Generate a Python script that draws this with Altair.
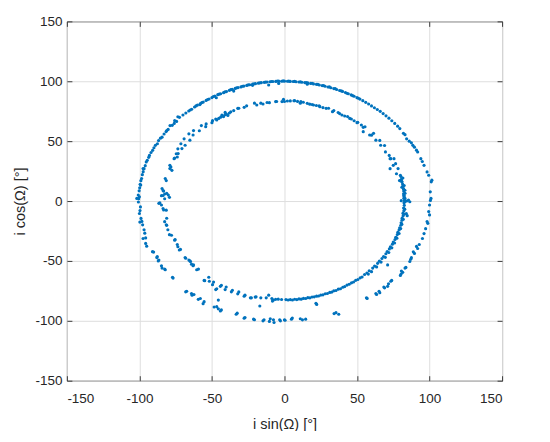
import altair as alt
import pandas as pd

# ---- data (degrees) ----
outer_top = [
    (-70.0, 71.8), (-68.0, 73.5), (-66.0, 75.2), (-65.0, 76.0), (-64.0, 76.6), (-62.0, 78.5), (-61.0, 79.4),
    (-60.0, 80.1), (-58.0, 81.3), (-57.0, 82.2), (-56.0, 82.6), (-54.0, 84.0), (-53.0, 84.8), (-52.0, 85.2),
    (-50.0, 86.4), (-49.0, 87.3), (-48.0, 87.6), (-46.0, 88.8), (-45.0, 89.2), (-44.0, 89.6), (-42.0, 90.5),
    (-41.0, 91.2), (-40.0, 91.4), (-38.0, 92.4), (-37.0, 93.0), (-36.0, 93.2), (-34.0, 94.0), (-33.0, 94.5),
    (-32.0, 94.7), (-30.0, 95.3), (-29.0, 95.8), (-28.0, 96.0), (-26.0, 96.5), (-25.0, 97.0), (-24.0, 97.1),
    (-22.0, 97.6), (-21.0, 97.9), (-20.0, 98.0), (-18.0, 98.4), (-17.0, 98.7), (-16.0, 98.8), (-14.0, 99.1),
    (-13.0, 99.3), (-12.0, 99.4), (-10.0, 99.6), (-9.0, 99.8), (-8.0, 99.8), (-6.0, 99.9), (-5.0, 100.2),
    (-4.0, 100.1), (-2.0, 100.0), (-1.0, 100.3), (0.0, 100.1), (2.0, 100.0), (3.0, 100.1), (4.0, 99.9),
    (6.0, 99.8), (7.0, 99.9), (8.0, 99.6), (10.0, 99.4), (11.0, 99.5), (12.0, 99.2), (14.0, 98.9),
    (15.0, 99.0), (16.0, 98.6), (18.0, 98.2), (19.0, 98.3), (20.0, 97.8), (22.0, 97.4), (23.0, 97.4),
    (24.0, 96.9), (26.0, 96.4), (27.0, 96.4), (28.0, 95.8), (30.0, 95.2), (31.0, 95.3), (32.0, 94.6),
    (34.0, 93.9), (35.0, 93.8), (36.0, 93.1), (38.0, 92.3), (39.0, 92.0), (40.0, 91.5), (42.0, 90.6),
    (43.0, 90.0), (44.0, 89.6), (46.0, 88.6), (47.0, 88.0), (48.0, 87.5), (50.0, 86.3), (51.0, 85.8),
    (52.0, 85.1), (54.0, 83.8), (56.0, 82.4), (58.0, 81.0), (60.0, 79.4), (62.0, 77.9), (64.0, 76.4),
    (66.0, 74.9), (68.0, 73.0), (70.0, 71.1), (72.0, 69.2), (74.0, 67.0), (76.0, 64.8),
    (-22.0, 96.6), (-10.9, 96.9), (-4.0, 98.2), (15.7, 97.6), (-58.3, 80.5), (-47.0, 86.2), (-35.0, 91.8),
]

outer_left = [
    (-101.8, 2.2), (-100.5, 2.0), (-100.0, 3.6), (-100.8, 5.0), (-100.2, 8.5), (-99.8, 11.0), (-99.1, 13.3),
    (-99.5, 14.0), (-99.0, 17.0), (-98.5, 18.8), (-98.0, 22.0), (-97.4, 24.5), (-97.5, 27.1), (-96.8, 27.0),
    (-96.0, 29.5), (-95.3, 32.6), (-94.6, 34.0), (-93.6, 36.5), (-93.1, 38.1), (-92.0, 40.5), (-90.9, 42.3),
    (-90.0, 44.5), (-89.0, 46.5), (-87.6, 47.8), (-86.8, 50.5), (-85.5, 52.5), (-84.4, 53.3), (-83.0, 56.0),
    (-81.6, 58.0), (-81.1, 58.8), (-80.2, 59.8), (-78.9, 63.0), (-77.4, 63.2), (-76.0, 64.8), (-75.7, 67.1),
    (-74.4, 66.5), (-72.4, 69.9), (-73.5, 70.4),
]

outer_right = [
    (78.0, 62.5), (79.5, 60.5), (82.0, 56.5), (83.1, 55.4), (84.2, 51.9), (86.0, 50.0), (87.5, 48.6),
    (88.5, 46.5), (89.6, 45.0), (91.0, 42.5), (91.8, 40.9), (94.0, 35.4), (95.0, 33.0), (96.2, 29.8),
    (98.3, 24.3), (99.4, 21.5), (101.6, 17.4), (101.2, 16.0), (100.5, 7.7), (101.0, 2.2), (100.6, 0.5),
    (100.0, -3.3), (99.4, -8.8), (100.0, -11.6), (98.3, -17.1), (98.8, -18.6), (97.3, -23.1), (96.2, -27.2),
    (95.1, -31.3), (92.9, -36.3), (91.8, -39.6), (91.0, -37.9), (89.6, -43.7), (88.8, -42.4), (87.5, -47.3),
    (87.0, -48.6), (86.4, -50.5), (83.7, -55.4), (83.1, -56.0), (81.5, -59.5), (80.6, -58.4), (80.4, -60.9),
    (79.9, -62.1), (73.9, -66.3), (73.3, -67.0), (71.7, -69.1), (71.1, -71.2), (69.0, -72.5), (68.5, -71.8),
    (65.7, -76.6), (65.2, -75.3), (63.5, -78.0), (63.0, -77.3), (57.0, -81.3), (56.5, -80.8),
]

outer_bottom = [
    (37.4, -94.5), (34.2, -94.0), (35.5, -93.2), (14.6, -98.6), (12.4, -99.2), (10.9, -98.3), (5.4, -97.7),
    (4.8, -98.6), (0.4, -99.5), (0.0, -99.1), (-2.8, -100.0), (-3.3, -99.1), (-7.2, -101.4), (-7.6, -99.1),
    (-10.4, -100.5), (-9.8, -98.3), (-14.8, -100.0), (-14.1, -99.1), (-20.7, -99.1), (-21.3, -98.6),
    (-27.2, -97.2), (-27.8, -97.8), (-32.6, -93.6), (-33.3, -94.5), (-43.5, -90.9), (-44.2, -91.8),
    (-45.6, -90.0), (-46.7, -88.2), (-48.5, -88.5), (-55.4, -84.0), (-56.1, -85.7), (-58.0, -81.4),
    (-59.4, -82.1), (-62.4, -78.0), (-63.7, -78.6), (-64.1, -77.3), (-67.4, -75.3), (-68.1, -75.8),
    (-76.8, -64.3), (-77.2, -63.6), (-82.2, -57.4), (-82.6, -56.8), (-84.4, -56.0), (-84.8, -54.0),
    (-86.6, -49.2), (-87.0, -50.0), (-87.7, -46.4), (-88.0, -47.2), (-90.2, -42.6), (-91.0, -42.3),
    (-95.0, -37.7), (-95.7, -35.4), (-95.7, -30.8), (-96.3, -26.8), (-97.5, -31.3), (-96.8, -24.0),
    (-97.8, -19.9), (-98.3, -17.0), (-98.9, -14.5), (-99.7, -17.6), (-100.0, -10.4), (-99.6, -8.0),
    (-99.3, -4.9), (-100.7, -0.8),
]

inner_top = [
    (-45.3, 69.0), (-44.0, 70.0), (-43.1, 71.8), (-43.0, 71.0), (-42.0, 70.5), (-41.0, 72.0), (-40.9, 74.0),
    (-40.0, 72.5), (-39.0, 71.5), (-38.0, 73.5), (-37.0, 74.5), (-35.0, 75.5), (-32.2, 77.4), (-31.5, 77.5),
    (-27.8, 78.2), (-26.1, 79.5), (-20.7, 81.7), (-19.1, 80.2), (-16.3, 81.7), (-14.8, 81.0), (-12.0, 82.3),
    (-10.4, 82.1), (-6.1, 83.0), (-5.4, 83.1), (-1.7, 83.0), (-0.7, 84.9), (0.0, 83.1), (2.0, 83.5),
    (4.0, 83.6), (6.5, 83.7), (7.0, 83.8), (9.0, 83.2), (10.9, 81.7), (11.3, 83.0), (13.0, 82.5),
    (15.7, 81.6), (17.4, 80.9), (19.0, 80.6), (20.0, 80.2), (22.0, 79.8), (23.9, 79.5), (24.4, 78.8),
    (26.5, 78.0), (28.7, 77.4), (30.4, 77.5), (33.1, 74.6), (34.0, 75.5), (37.0, 73.9), (38.0, 73.0),
    (39.6, 71.8), (41.5, 71.0), (43.5, 70.5), (45.0, 69.0), (46.1, 68.5), (48.0, 67.0), (50.0, 65.4),
    (50.5, 65.7), (53.0, 63.5), (54.3, 61.5), (55.5, 62.0), (54.3, 57.9), (58.7, 55.1), (60.0, 55.0),
    (61.4, 56.5), (63.0, 50.8), (65.7, 50.6), (66.3, 46.6), (69.0, 46.4), (69.6, 41.0), (72.2, 38.1),
    (72.8, 35.4), (73.3, 35.4), (75.5, 35.4), (75.0, 29.8), (76.6, 31.2), (72.8, 27.0), (77.2, 22.8),
    (78.3, 27.1), (79.3, 17.1), (79.9, 21.5), (80.9, 11.5), (81.0, 16.0), (82.0, 10.5), (82.2, 4.5),
    (83.1, 6.4), (83.1, 2.2), (84.2, 0.0), (86.4, -0.6), (85.5, 0.8), (80.5, 0.3),
]

inner_left = [
    (-47.4, 68.5), (-49.6, 67.1), (-46.7, 67.7), (-50.0, 65.4), (-54.0, 64.4), (-54.3, 62.1), (-57.3, 63.0),
    (-58.7, 58.7), (-62.7, 58.8), (-63.0, 55.1), (-65.9, 56.1), (-65.2, 50.8), (-69.2, 51.9), (-68.5, 46.6),
    (-71.4, 47.8), (-70.7, 43.8), (-73.5, 43.6), (-73.3, 39.6), (-74.6, 39.5), (-73.9, 36.8), (-76.1, 35.4),
    (-75.7, 35.9), (-79.0, 29.8), (-78.3, 28.4), (-79.0, 27.1), (-77.6, 25.6), (-82.2, 18.8), (-81.5, 17.1),
    (-84.4, 10.5), (-83.7, 8.7), (-83.3, 8.3), (-81.2, 6.4), (-82.6, 5.9), (-80.1, 5.0), (-84.8, 4.5),
    (-83.7, 4.6), (-79.3, 3.1), (-82.6, 1.9), (-85.9, -1.6), (-86.6, -1.9), (-84.8, -3.3), (-83.7, -6.3),
    (-81.5, -7.6), (-83.3, -7.5), (-81.2, -14.4), (-82.6, -17.2), (-81.5, -19.9), (-81.2, -20.3),
    (-80.4, -24.0), (-79.3, -28.1), (-77.9, -28.6), (-75.7, -32.7), (-75.4, -32.2), (-73.9, -36.3),
    (-73.5, -38.2), (-72.5, -40.9), (-71.7, -40.4), (-68.5, -47.2), (-68.1, -47.8), (-65.9, -49.2),
    (-65.2, -50.0), (-64.8, -50.5), (-64.1, -52.7), (-63.0, -54.0), (-62.7, -53.3), (-60.5, -57.4),
    (-59.3, -56.8),
]

inner_bottom = [
    (-55.4, -66.3), (-55.0, -66.5), (-52.2, -63.6), (-51.8, -67.0), (-49.6, -69.8), (-48.9, -67.7),
    (-47.4, -73.9), (-46.7, -73.2), (-45.6, -82.7), (-44.2, -71.2), (-43.5, -70.4), (-40.9, -73.9),
    (-40.2, -71.8), (-36.6, -75.8), (-35.9, -74.5), (-32.2, -77.5), (-31.5, -75.9), (-27.8, -79.4),
    (-27.2, -78.6), (-23.5, -80.8), (-22.8, -80.8), (-20.2, -80.2), (-19.6, -80.0), (-17.0, -87.6),
    (-16.3, -80.8), (-12.6, -80.8), (-10.9, -78.6), (-8.3, -83.5), (-7.6, -82.7), (-6.1, -82.1),
    (-4.3, -81.9), (-8.7, -81.4), (22.2, -86.3), (21.7, -85.4), (71.1, -53.3), (84.0, -10.5), (84.6, -12.2),
]

inner_right = [
    (80.3, 20.5), (80.6, 18.2), (80.8, 16.4), (81.4, 14.2), (81.5, 12.3), (82.0, 10.1), (82.2, 8.3),
    (82.1, 6.0), (82.6, 4.2), (82.3, 2.4), (82.7, 0.5), (82.4, -1.5), (82.6, -3.6), (82.1, -5.8),
    (82.3, -8.2), (81.7, -10.1), (81.8, -12.2), (81.1, -14.3), (81.0, -16.0), (80.4, -18.1), (80.2, -20.2),
    (79.4, -22.3), (79.0, -24.1), (78.1, -26.2), (77.8, -28.0), (76.7, -30.3), (76.2, -32.1), (75.0, -34.2),
    (74.4, -36.0), (73.0, -38.3), (72.3, -40.0), (70.8, -42.2), (69.9, -44.0), (68.3, -46.3), (67.2, -48.0),
    (65.4, -50.2), (64.2, -52.0), (62.1, -54.3), (60.8, -56.0), (58.4, -58.2), (56.8, -60.1), (55.2, -61.3),
    (52.2, -64.1), (49.1, -66.2), (46.2, -68.3), (43.1, -70.2), (40.2, -72.0), (37.1, -73.6), (34.0, -75.0),
    (31.2, -76.3), (28.1, -77.4), (25.0, -78.5), (22.1, -79.4), (19.0, -80.1), (16.1, -80.7), (13.1, -81.3),
    (10.0, -81.7), (7.0, -82.0), (4.0, -82.3), (1.0, -82.3), (-2.0, -82.2),
    (81.6, 19.2), (82.5, 13.0), (83.0, 9.0), (83.0, -0.5), (82.9, -6.8), (82.5, -11.0), (81.9, -15.2),
    (80.9, -19.3), (80.1, -23.0), (79.0, -27.1), (77.5, -31.0), (75.9, -35.0), (74.0, -39.1), (71.9, -43.0),
    (69.5, -47.0), (66.6, -51.0), (63.5, -55.0), (60.0, -59.0), (57.8, -61.0), (53.5, -63.4), (50.6, -65.5),
    (47.6, -67.6), (44.6, -69.5), (41.5, -71.4), (38.6, -73.2), (35.5, -74.7), (32.6, -76.0), (29.6, -77.2),
    (26.5, -78.3), (23.5, -79.3), (20.5, -80.0), (17.5, -80.8), (14.6, -81.4), (11.5, -81.9), (8.5, -82.3),
    (5.5, -82.6), (2.5, -82.6),
]

tick_values = [-150, -100, -50, 0, 50, 100, 150]
x_title = "i sin(\u03a9) [\u00b0]"
y_title = "i cos(\u03a9) [\u00b0]"

segments = [outer_top, outer_left, outer_right, outer_bottom,
            inner_top, inner_left, inner_bottom, inner_right]
df = pd.DataFrame({
    "x": [p[0] for s in segments for p in s],
    "y": [p[1] for s in segments for p in s],
})

FONT = "Liberation Sans"
TXT = "#262626"
FRAME = "#3c3c3c"
xs = alt.Scale(domain=[-150, 150], nice=False, zero=False)
ys = alt.Scale(domain=[-150, 150], nice=False, zero=False)
minus_fix = "replace(datum.label, '\u2212', '-')"

base = alt.Chart(df)

points = base.mark_circle(size=10, color="#0072BD", opacity=1).encode(
    x=alt.X("x:Q", scale=xs, axis=alt.Axis(
        orient="bottom", values=tick_values, grid=True, gridColor="#dedede", gridWidth=1,
        ticks=False, tickSize=0, domain=False, labelFont=FONT, labelFontSize=13.5,
        labelColor=TXT, labelPadding=11, labelExpr=minus_fix, title=x_title,
        titleFont=FONT, titleFontSize=14.5, titleFontWeight="normal", titleColor=TXT,
        titlePadding=12)),
    y=alt.Y("y:Q", scale=ys, axis=alt.Axis(
        orient="left", values=tick_values, grid=True, gridColor="#dedede", gridWidth=1,
        ticks=False, tickSize=0, domain=False, labelFont=FONT, labelFontSize=13.5,
        labelColor=TXT, labelPadding=5, labelExpr=minus_fix, title=y_title,
        titleFont=FONT, titleFontSize=14.5, titleFontWeight="normal", titleColor=TXT,
        titlePadding=7)),
)

def tick_axis(orient):
    return alt.Axis(orient=orient, values=tick_values, offset=-5, tickSize=5, tickColor=FRAME,
                    tickWidth=1, labels=False, domain=False, grid=False, title=None)

ticks_bl = base.mark_circle(opacity=0).encode(
    x=alt.X("x:Q", scale=xs, axis=tick_axis("bottom")),
    y=alt.Y("y:Q", scale=ys, axis=tick_axis("left")),
)
ticks_tr = base.mark_circle(opacity=0).encode(
    x=alt.X("x:Q", scale=xs, axis=tick_axis("top")),
    y=alt.Y("y:Q", scale=ys, axis=tick_axis("right")),
)

chart = alt.layer(points, ticks_bl, ticks_tr).resolve_axis(
    x="independent", y="independent"
).properties(
    width=436, height=360,
    padding={"left": 59, "top": 13, "right": 40, "bottom": 50},
    autosize=alt.AutoSizeParams(type="none"),
    background="white",
).configure_view(stroke=FRAME, strokeWidth=1)

chart.save("out.html", embed_options={"renderer": "svg", "actions": False})
